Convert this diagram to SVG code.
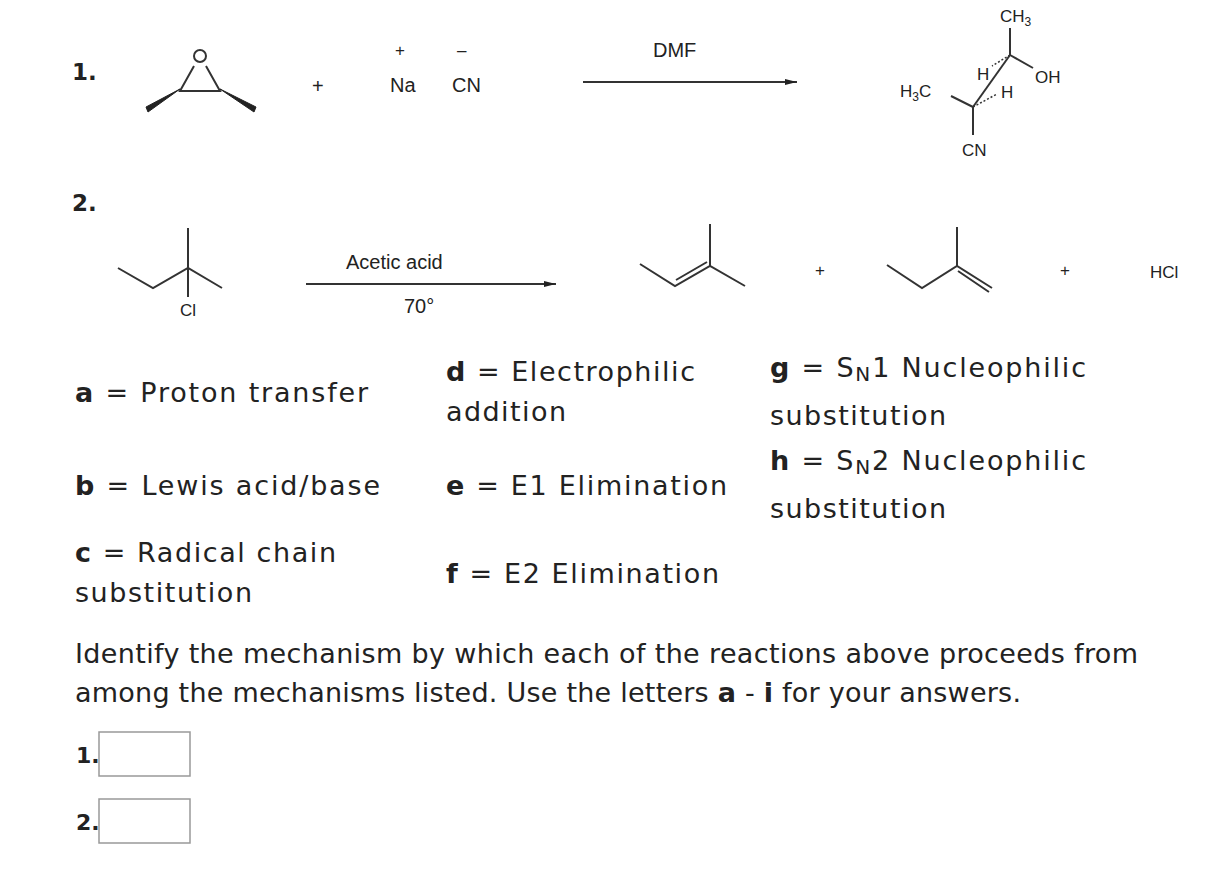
<svg xmlns="http://www.w3.org/2000/svg" width="1228" height="874" viewBox="0 0 1228 874">
<style>
.c{font-family:"Liberation Sans",Arial,sans-serif;font-size:20px;fill:#222}
.s{font-family:"Liberation Sans",Arial,sans-serif;font-size:17px;fill:#222}
.t{font-family:"DejaVu Sans","Open Sans",sans-serif;font-size:27px;fill:#222}
.b{stroke:#333;stroke-width:2;fill:none}
.box{fill:#fff;stroke:#999;stroke-width:1.5}
</style>
<defs><marker id="ah" markerWidth="12" markerHeight="8" refX="12" refY="4" orient="auto" markerUnits="userSpaceOnUse"><path d="M0,1 L12,4 L0,7 Z" fill="#222"/></marker></defs>
<rect width="1228" height="874" fill="#fff"/>
<text x="72" y="80" class="t" font-weight="bold" style="font-size:23px">1.</text>
<text x="72" y="211" class="t" font-weight="bold" style="font-size:23px">2.</text>
<g id="epoxide">
<circle cx="200" cy="56" r="6" class="b"/>
<path d="M194,66 L180,91 L220,91 L206,66" class="b"/>
<path d="M180,89 L146,107 L148,112 Z M220,89 L256,107 L254,112 Z" fill="#222" stroke="#222" stroke-width="1"/>
</g>
<g id="nacn">
<text x="312" y="93" class="c">+</text>
<text x="395" y="56" class="s">+</text>
<text x="390" y="92" class="c">Na</text>
<text x="457" y="56" class="s">–</text>
<text x="452" y="92" class="c">CN</text>
</g>
<g id="connectors">
<line x1="583" y1="82" x2="797" y2="82" class="b" marker-end="url(#ah)"/>
<line x1="306" y1="284" x2="556" y2="284" class="b" marker-end="url(#ah)"/>
</g>
<text x="653" y="57" class="c">DMF</text>
<text x="346" y="269" class="c">Acetic acid</text>
<text x="404" y="313" class="c">70°</text>
<g id="product1">
<text x="1000" y="22" class="s">CH<tspan style="font-size:12px" dy="4">3</tspan></text>
<line x1="1010" y1="28" x2="1010" y2="55" class="b" stroke-width="1.5"/>
<line x1="1010" y1="55" x2="973" y2="107" class="b" stroke-width="1.5"/>
<line x1="1010" y1="55" x2="1033" y2="68" class="b" stroke-width="1.5"/>
<line x1="1010" y1="55" x2="992" y2="66" stroke="#333" stroke-width="1.5" stroke-dasharray="2,2"/>
<line x1="973" y1="107" x2="997" y2="94" stroke="#333" stroke-width="1.5" stroke-dasharray="2,2"/>
<line x1="973" y1="107" x2="951" y2="96" class="b" stroke-width="1.5"/>
<line x1="973" y1="107" x2="973" y2="135" class="b" stroke-width="1.5"/>
<text x="977" y="80" class="s">H</text>
<text x="1035" y="83" class="s">OH</text>
<text x="900" y="97" class="s">H<tspan style="font-size:12px" dy="4">3</tspan><tspan dy="-4">C</tspan></text>
<text x="1001" y="98" class="s">H</text>
<text x="962" y="156" class="s">CN</text>
</g>
<g id="chloride">
<path d="M118,268 L153,288 L188,268 L222,288 M188,228 L188,297" class="b" stroke-width="1.5"/>
<text x="180" y="316" class="s">Cl</text>
</g>
<g id="alkene1">
<path d="M640,264 L675,286 L710,266 L745,286 M710,266 L710,224 M676,280 L707,262" class="b" stroke-width="1.5"/>
</g>
<text x="815" y="276" class="s">+</text>
<g id="alkene2">
<path d="M887,265 L922,288 L957,266 L992,288 M957,266 L957,227 M958,271 L989,292" class="b" stroke-width="1.5"/>
</g>
<text x="1060" y="276" class="s">+</text>
<text x="1150" y="278" class="s">HCl</text>
<g id="options">
<text x="75" y="402" class="t" textLength="293"><tspan font-weight="bold">a</tspan> = Proton transfer</text>
<text x="75" y="495" class="t" textLength="305"><tspan font-weight="bold">b</tspan> = Lewis acid/base</text>
<text x="75" y="562" class="t" textLength="261"><tspan font-weight="bold">c</tspan> = Radical chain</text>
<text x="75" y="602" class="t" textLength="177">substitution</text>
<text x="446" y="381" class="t" textLength="249"><tspan font-weight="bold">d</tspan> = Electrophilic</text>
<text x="446" y="421" class="t" textLength="120">addition</text>
<text x="446" y="495" class="t" textLength="281"><tspan font-weight="bold">e</tspan> = E1 Elimination</text>
<text x="446" y="583" class="t" textLength="273"><tspan font-weight="bold">f</tspan> = E2 Elimination</text>
<text x="770" y="377" class="t" textLength="316"><tspan font-weight="bold">g</tspan> = S<tspan style="font-size:20px" dy="4">N</tspan><tspan dy="-4">1 Nucleophilic</tspan></text>
<text x="770" y="425" class="t" textLength="176">substitution</text>
<text x="770" y="470" class="t" textLength="316"><tspan font-weight="bold">h</tspan> = S<tspan style="font-size:20px" dy="4">N</tspan><tspan dy="-4">2 Nucleophilic</tspan></text>
<text x="770" y="518" class="t" textLength="176">substitution</text>
</g>
<text x="75" y="663" class="t" textLength="1063">Identify the mechanism by which each of the reactions above proceeds from</text>
<text x="75" y="702" class="t" textLength="946">among the mechanisms listed. Use the letters <tspan font-weight="bold">a</tspan> - <tspan font-weight="bold">i</tspan> for your answers.</text>
<text x="76" y="763" class="t" font-weight="bold" style="font-size:22px">1.</text>
<rect x="99" y="732" width="91" height="44" class="box"/>
<text x="76" y="830" class="t" font-weight="bold" style="font-size:22px">2.</text>
<rect x="99" y="799" width="91" height="44" class="box"/>
</svg>
